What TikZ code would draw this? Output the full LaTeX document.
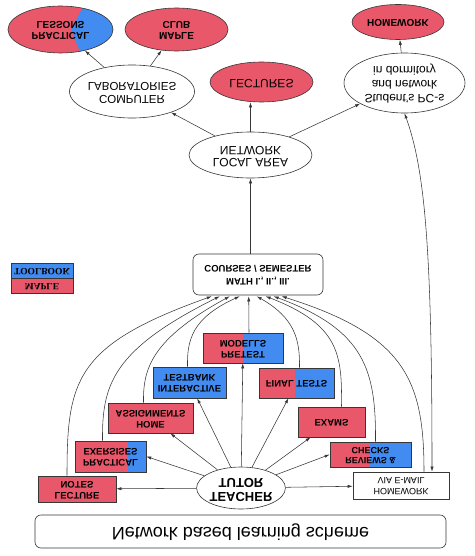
\documentclass[tikz,border=0pt]{standalone}
\usepackage{fontspec}
\setmainfont{Liberation Sans}
\newfontfamily\legendfont{Liberation Serif}
\usepackage{graphicx}
\usetikzlibrary{arrows.meta,shapes.geometric,calc}
\definecolor{mpred}{RGB}{233,87,106}
\definecolor{tbblue}{RGB}{66,139,240}
\definecolor{edgegray}{RGB}{55,55,55}
% the whole scheme is printed upside down, so every label is mirrored
\newcommand{\flip}[1]{\scalebox{1}[-1]{\begin{tabular}{@{}c@{}}#1\end{tabular}}}
\tikzset{
  oval/.style={draw=edgegray, ellipse, inner sep=0pt, line width=0.6pt},
  redoval/.style={oval, fill=mpred, font=\fontsize{10}{11.5}\selectfont\bfseries},
  whiteoval/.style={oval, fill=white, font=\fontsize{11.5}{12.5}\selectfont},
  tool/.style={draw=edgegray, fill=mpred, inner sep=0pt, line width=0.6pt, font=\fontsize{9.5}{11}\selectfont\bfseries},
  bluetool/.style={tool, fill=tbblue},
  splittool/.style={tool, path picture={\fill[tbblue] ($(path picture bounding box.north west)!#1!(path picture bounding box.north east)$) rectangle (path picture bounding box.south east);}},
  lessonsplit/.style={path picture={\fill[tbblue] ($(path picture bounding box.north west)!0.72!(path picture bounding box.north east)$) -- ($(path picture bounding box.west)!0.6!(path picture bounding box.east)$) -- ($(path picture bounding box.south west)!0.69!(path picture bounding box.south east)$) -- (path picture bounding box.south east) -- (path picture bounding box.north east) -- cycle;}},
  plainbox/.style={draw=edgegray, fill=white, inner sep=0pt, line width=0.6pt},
  legend/.style={draw=edgegray, inner sep=0pt, minimum width=62pt, minimum height=15pt, line width=0.5pt, font=\legendfont\bfseries\fontsize{9.5}{10}\selectfont},
  arrow/.style={-{Latex[length=5pt,width=3.2pt]}, edgegray, line width=0.55pt},
  twoway/.style={{Latex[length=5pt,width=3.2pt]}-{Latex[length=5pt,width=3.2pt]}, edgegray, line width=0.55pt}
}
\begin{document}
\begin{tikzpicture}[x=1pt,y=-1pt]
  \useasboundingbox (0,0) rectangle (474,556);

  % upper part: network and its services
  \node[redoval, lessonsplit, minimum width=105pt, minimum height=47pt] (lessons) at (60.5,29.5) {\flip{PRACTICAL\\LESSONS}};
  \node[redoval, minimum width=103pt, minimum height=43pt] (mapleclub) at (176.5,29.5) {\flip{MAPLE\\CLUB}};
  \node[redoval, minimum width=92pt, minimum height=35pt] (homework) at (398,22) {\flip{HOMEWORK}};
  \node[whiteoval, minimum width=122pt, minimum height=53pt] (complab) at (132,91.5) {\flip{COMPUTER\\LABORATORIES}};
  \node[oval, fill=mpred, minimum width=103pt, minimum height=40pt, font=\fontsize{12}{13}\selectfont] (lectures) at (261.5,82) {\flip{LECTURES}};
  \node[whiteoval, minimum width=121pt, minimum height=60pt, font=\fontsize{12}{14}\selectfont] (pcs) at (404.5,83) {\flip{Student's PC-s\\and network\\in dormitory}};
  \node[whiteoval, minimum width=123pt, minimum height=46pt, font=\fontsize{12}{12.5}\selectfont] (lan) at (250.5,155) {\flip{LOCAL AREA\\NETWORK}};
  \node[plainbox, rounded corners=6pt, minimum width=130pt, minimum height=41pt, font=\fontsize{9.5}{13}\selectfont\bfseries] (math) at (258,274.5) {\flip{MATH I., II., III.\\COURSES / SEMESTER}};

  % legend
  \node[legend, fill=tbblue] (toolbook) at (42,270.5) {\flip{TOOLBOOK}};
  \node[legend, fill=mpred] (maplekey) at (42,285.5) {\flip{MAPLE}};

  % lower part: materials of the tutor
  \node[bluetool, minimum width=73pt, minimum height=31pt] (testbank) at (189.5,382.5) {\flip{INTERACTIVE\\TESTBANK}};
  \node[splittool=0.5, minimum width=80pt, minimum height=30pt] (pretest) at (243,348) {\flip{PRETEST\\MODELLS}};
  \node[splittool=0.48, minimum width=75pt, minimum height=30pt] (final) at (296.5,383) {\flip{FINAL TESTS}};
  \node[tool, minimum width=85pt, minimum height=30pt] (home) at (150.5,418) {\flip{HOME\\ASSIGNMENTS}};
  \node[tool, minimum width=67pt, minimum height=30pt] (exams) at (331.5,422) {\flip{EXAMS}};
  \node[splittool=0.75, minimum width=71pt, minimum height=31pt] (practical) at (110.5,456.5) {\flip{PRACTICAL\\EXERSISES}};
  \node[splittool=0.49, minimum width=81pt, minimum height=25pt, font=\fontsize{9}{10}\selectfont\bfseries] (reviews) at (370.5,454.5) {\flip{REVIEWS \&\\CHECKS}};
  \node[tool, minimum width=78pt, minimum height=26pt] (lnotes) at (77,489) {\flip{LECTURE\\NOTES}};
  \node[plainbox, minimum width=96pt, minimum height=27pt, font=\fontsize{9}{11}\selectfont] (email) at (401,485.5) {\flip{HOMEWORK\\VIA E-MAIL}};
  \node[whiteoval, minimum width=87pt, minimum height=42pt, font=\fontsize{13}{13.5}\selectfont\bfseries] (teacher) at (241,488) {\flip{TEACHER\\TUTOR}};
  \node[plainbox, rounded corners=6pt, minimum width=411pt, minimum height=33pt, font=\fontsize{18}{20}\selectfont] (scheme) at (240.5,531.5) {\flip{Network based learning scheme}};

  % tutor to materials
  \draw[arrow] (teacher) -- (lnotes);
  \draw[arrow] (teacher) -- (practical.east);
  \draw[arrow] (teacher) -- (home);
  \draw[arrow] (teacher) -- (testbank);
  \draw[arrow] (teacher) -- (pretest);
  \draw[arrow] (teacher) -- (final);
  \draw[arrow] (teacher) -- (exams);
  \draw[arrow] (teacher) -- (reviews.west);
  \draw[arrow] (teacher) -- (email);

  % materials to the courses
  \draw[arrow] ($(lnotes.north)+(-10,0)$) .. controls (67,380) and (75,345) .. ($(math.south west)+(19,1)$);
  \draw[arrow] ($(practical.north)+(-8,0)$) .. controls (102,385) and (112,350) .. ($(math.south west)+(27,1)$);
  \draw[arrow] ($(home.north)+(-7,0)$) .. controls (143,370) and (150,340) .. ($(math.south west)+(37,1)$);
  \draw[arrow] ($(testbank.north)+(-2,0)$) .. controls (187,340) and (192,318) .. ($(math.south west)+(47,1)$);
  \draw[arrow] ($(pretest.north)+(6,0)$) -- ($(math.south west)+(56,1)$);
  \draw[arrow] ($(final.north)+(3,0)$) .. controls (300,340) and (295,318) .. ($(math.south west)+(64,1)$);
  \draw[arrow] ($(exams.north)+(10,0)$) .. controls (342,355) and (340,325) .. ($(math.south west)+(73,1)$);
  \draw[arrow] ($(reviews.north)+(5,0)$) .. controls (376,370) and (365,330) .. ($(math.south west)+(81,1)$);
  \draw[arrow] ($(email.north)+(23,0)$) .. controls (424,380) and (405,335) .. ($(math.south west)+(89,1)$);

  % courses and network
  \draw[arrow] (math.north -| lan.south) -- (lan.south);
  \draw[arrow] (lan) -- (complab);
  \draw[arrow] (lan.north) -- (lan.north |- lectures.south);
  \draw[arrow] (lan) -- (pcs);
  \draw[arrow] (complab) -- (lessons);
  \draw[arrow] (complab) -- (mapleclub);
  \draw[arrow] (pcs) -- (homework);
  \draw[twoway] (pcs.south) .. controls (425,170) and (432,250) .. ($(email.north)+(31,0)$);
\end{tikzpicture}
\end{document}
